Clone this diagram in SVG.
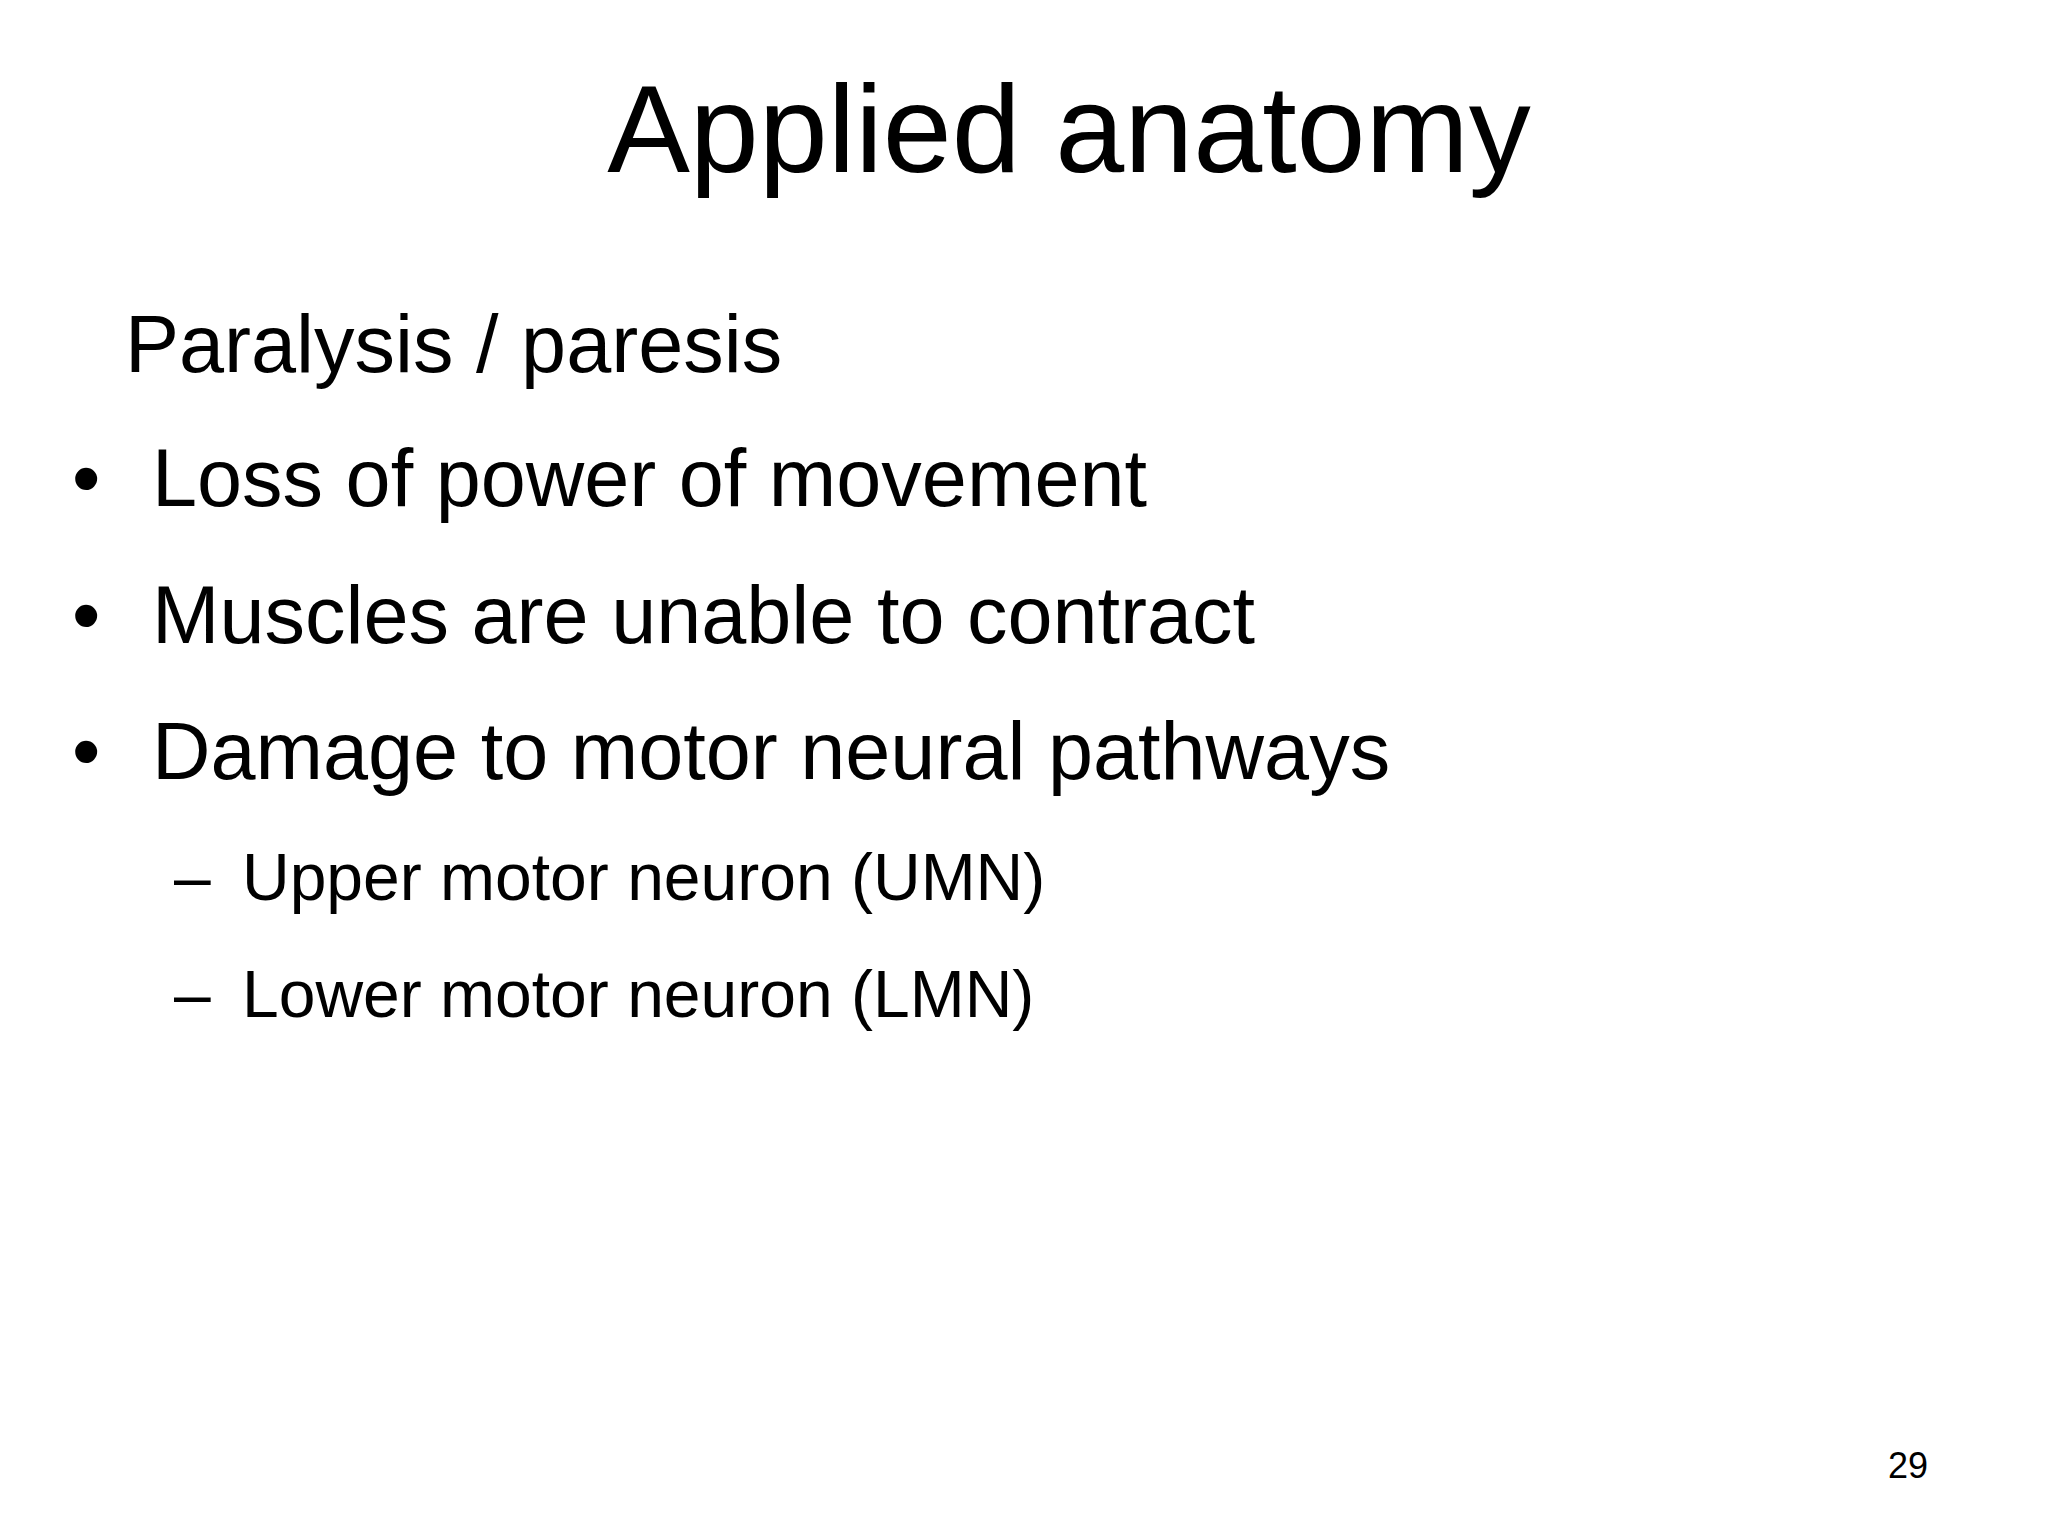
<svg xmlns="http://www.w3.org/2000/svg" width="2048" height="1536" viewBox="0 0 2048 1536">
<style>text{font-family:"Liberation Sans",Arial,sans-serif;fill:#000}.b{font-size:81px}.s{font-size:66px}</style>
<rect width="2048" height="1536" fill="#fff"/>
<text x="1069" y="172" font-size="124" text-anchor="middle">Applied anatomy</text>
<text x="125" y="372" class="b">Paralysis / paresis</text>
<text x="72" y="506" class="b">•</text><text x="152" y="506" class="b">Loss of power of movement</text>
<text x="72" y="643" class="b">•</text><text x="152" y="643" class="b">Muscles are unable to contract</text>
<text x="72" y="779" class="b">•</text><text x="152" y="779" class="b">Damage to motor neural pathways</text>
<text x="174" y="900" class="s">–</text><text x="242" y="900" class="s">Upper motor neuron (UMN)</text>
<text x="174" y="1017" class="s">–</text><text x="242" y="1017" class="s">Lower motor neuron (LMN)</text>
<text x="1888" y="1478" font-size="36">29</text>
</svg>
